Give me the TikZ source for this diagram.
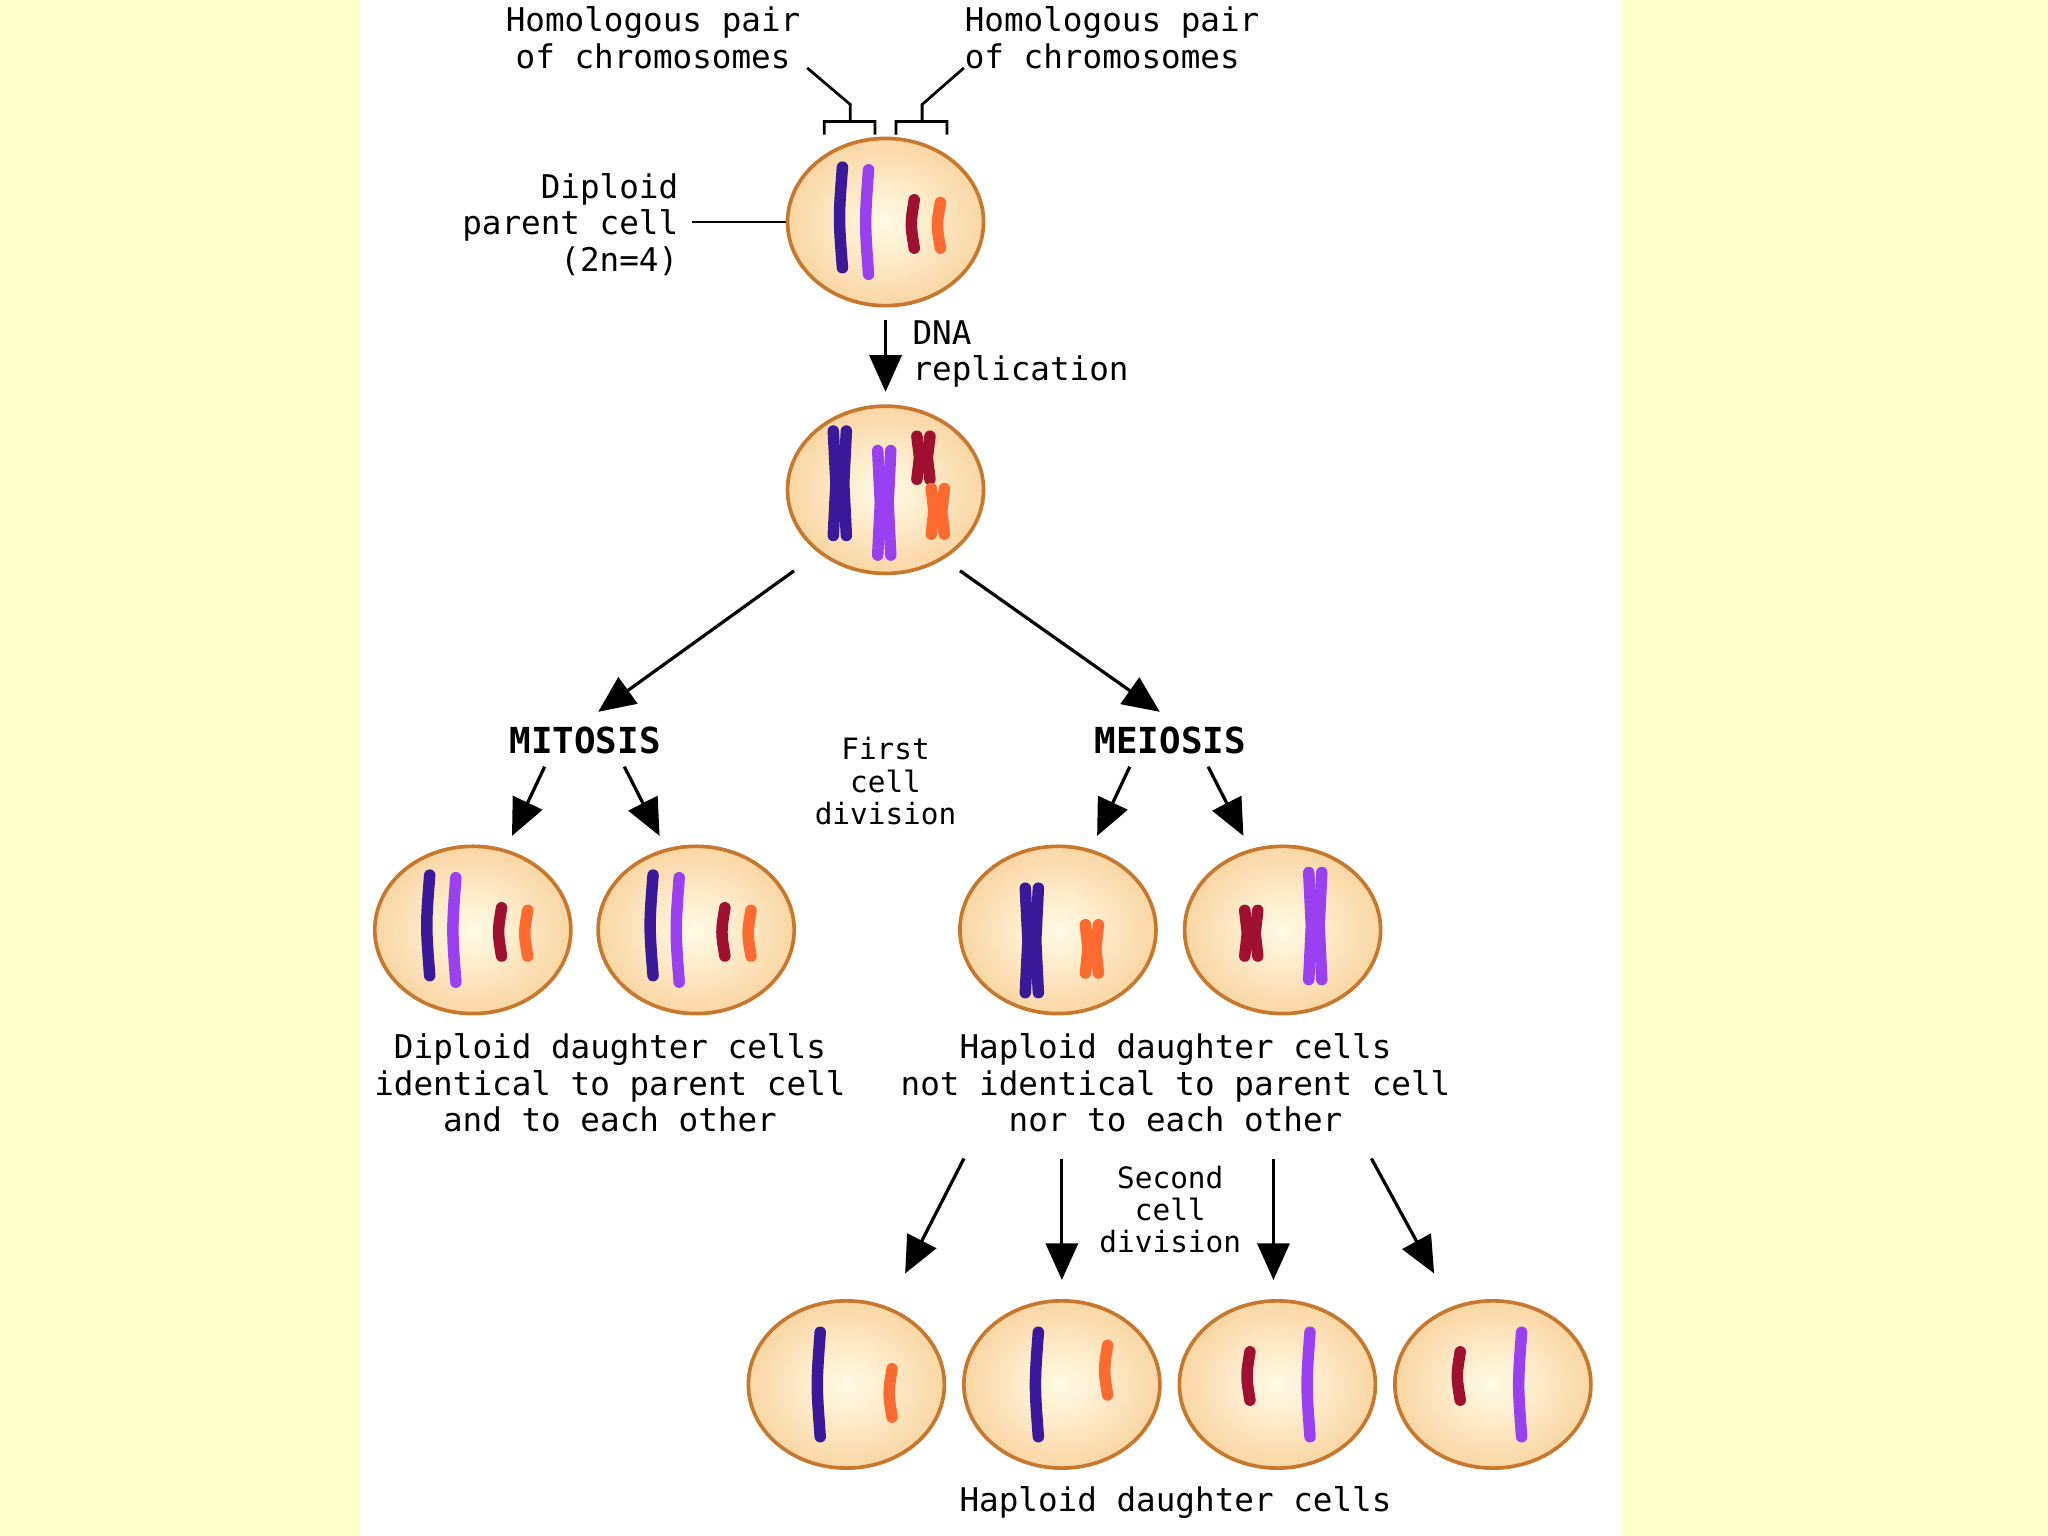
\documentclass[tikz,border=0pt]{standalone}
\usepackage{fontspec}
\setmonofont{DejaVu Sans Mono}
\usetikzlibrary{arrows.meta,shapes.geometric}
\definecolor{bgyel}{HTML}{FFFFCC}
\definecolor{cellrim}{HTML}{C8782C}
\definecolor{cellin}{HTML}{FFFBE6}
\definecolor{cellout}{HTML}{FAD6A4}
\definecolor{chblue}{HTML}{3A1A9A}
\definecolor{chpurp}{HTML}{9B40F0}
\definecolor{chred}{HTML}{A01030}
\definecolor{chorng}{HTML}{FF6A30}
% single chromatid: x, top, bottom, colour
\newcommand\chrom[4]{\draw[chr,#4] (#1,#2) .. controls (#1-3,{(#2+#3)/2}) .. (#1,#3);}
% duplicated chromosome (X)
\newcommand\dchrom[4]{%
  \draw[chr,#4] (#1-5,#2) -- (#1-3,{(#2+#3)/2}) -- (#1-5,#3);
  \draw[chr,#4] (#1+5,#2) -- (#1+3,{(#2+#3)/2}) -- (#1+5,#3);
  \draw[#4,line width=3pt] (#1-4,{(#2+#3)/2}) -- (#1+4,{(#2+#3)/2});}

\begin{document}
\begin{tikzpicture}[x=0.01cm,y=-0.01cm,
    font=\ttfamily\fontsize{7.1}{8}\selectfont,
    cell/.style={ellipse,minimum width=1.5cm,minimum height=1.28cm,draw=cellrim,
                 line width=0.8pt,inner color=cellin,outer color=cellout},
    chr/.style={line width=2.5pt,line cap=round},
    arr/.style={-{Triangle[width=7pt,length=8pt]},line width=0.7pt},
    lbl/.style={align=center,inner sep=0pt},
    small/.style={lbl,font=\ttfamily\fontsize{6.4}{7}\selectfont}]

  \fill[bgyel] (0,0) rectangle (1568,1176);
  \fill[white] (275,0) rectangle (1242,1176);
  \useasboundingbox (0,0) rectangle (1568,1176);

  % cells
  \node[cell] (parent) at (678,170) {};
  \node[cell] (repl) at (678,375) {};
  \node[cell] (mitA) at (362,712) {};
  \node[cell] (mitB) at (533,712) {};
  \node[cell] (meiA) at (810,712) {};
  \node[cell] (meiB) at (982,712) {};
  \node[cell] (hapA) at (648,1060) {};
  \node[cell] (hapB) at (813,1060) {};
  \node[cell] (hapC) at (978,1060) {};
  \node[cell] (hapD) at (1143,1060) {};

  % chromosomes
  \foreach \dx/\dy in {0/0,-316/542,-145/542} {
    \chrom{645+\dx}{128+\dy}{205+\dy}{chblue}
    \chrom{665+\dx}{130+\dy}{210+\dy}{chpurp}
    \chrom{700+\dx}{153+\dy}{190+\dy}{chred}
    \chrom{720+\dx}{155+\dy}{190+\dy}{chorng}
  }
  \dchrom{643}{330}{410}{chblue}
  \dchrom{677}{345}{425}{chpurp}
  \dchrom{707}{334}{367}{chred}
  \dchrom{718}{374}{409}{chorng}
  \dchrom{790}{680}{760}{chblue}
  \dchrom{836}{708}{745}{chorng}
  \dchrom{958}{697}{732}{chred}
  \dchrom{1007}{668}{750}{chpurp}
  \chrom{628}{1020}{1100}{chblue}
  \chrom{683}{1048}{1085}{chorng}
  \chrom{795}{1020}{1100}{chblue}
  \chrom{848}{1030}{1068}{chorng}
  \chrom{957}{1035}{1072}{chred}
  \chrom{1003}{1020}{1100}{chpurp}
  \chrom{1118}{1035}{1072}{chred}
  \chrom{1165}{1020}{1100}{chpurp}

  % labels
  \node[lbl] (homL) at (500,29) {Homologous pair\\of chromosomes};
  \node[lbl,align=left,anchor=west] (homR) at (738,29) {Homologous pair\\of chromosomes};
  \node[lbl,align=right,anchor=east] (dipl) at (520,172) {Diploid\\parent cell\\(2n=4)};
  \node[lbl,align=left,anchor=west] (dna) at (698,271) {DNA\\replication};
  \node[lbl,font=\ttfamily\bfseries\fontsize{7.8}{8}\selectfont] (mit) at (448,567) {MITOSIS};
  \node[lbl,font=\ttfamily\bfseries\fontsize{7.8}{8}\selectfont] (mei) at (896,567) {MEIOSIS};
  \node[small] (first) at (678,598) {First\\cell\\division};
  \node[lbl] (dipd) at (467,829) {Diploid daughter cells\\identical to parent cell\\and to each other};
  \node[lbl] (hapd) at (900,829) {Haploid daughter cells\\not identical to parent cell\\nor to each other};
  \node[small] (second) at (896,926) {Second\\cell\\division};
  \node[lbl] (hapf) at (900,1150) {Haploid daughter cells};

  % brackets
  \coordinate (bL) at (651,80);
  \coordinate (bR) at (706,80);
  \draw[line width=0.6pt] (631,103) -- (631,93) -- (670,93) -- (670,103) (651,93) -- (bL) -- (618,52);
  \draw[line width=0.6pt] (686,103) -- (686,93) -- (725,93) -- (725,103) (706,93) -- (bR) -- (738,52);
  \coordinate (dl) at (530,170);
  \draw[line width=0.6pt] (dl) -- (parent.west);

  % arrows
  \coordinate (a1) at (678,245); \coordinate (a2) at (678,300);
  \draw[arr] (a1) -- (a2);
  \coordinate (m1) at (608,437); \coordinate (m2) at (458,545);
  \coordinate (e1) at (735,437); \coordinate (e2) at (888,545);
  \draw[arr] (m1) -- (m2);
  \draw[arr] (e1) -- (e2);
  \foreach \xa/\xb in {417/392,478/505,865/840,925/952}
    \draw[arr] (\xa,587) -- (\xb,640);
  \foreach \xa/\xb/\yb in {738/693/975,813/813/980,975/975/980,1050/1098/975}
    \draw[arr] (\xa,887) -- (\xb,\yb);
\end{tikzpicture}
\end{document}
